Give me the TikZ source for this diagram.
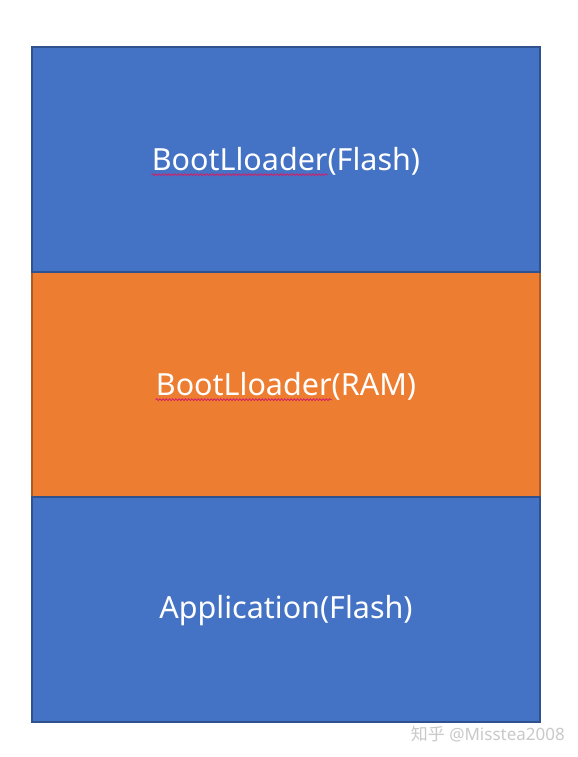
\documentclass[tikz,border=0pt]{standalone}
\usepackage{fontspec}
\setmainfont{Noto Sans}
\newfontfamily\cjkfont{Noto Sans CJK SC}
\usetikzlibrary{decorations.pathmorphing,calc}
\definecolor{boxblue}{HTML}{4472C4}
\definecolor{boxblueline}{HTML}{2F528F}
\definecolor{boxorange}{HTML}{ED7D31}
\definecolor{boxorangeline}{HTML}{AE5A21}
\definecolor{marktext}{HTML}{C9C9C9}
\definecolor{spellred}{HTML}{D0206A}
\newcommand\labelfont{\fontsize{30.5bp}{36bp}\selectfont}
\tikzset{
  layer/.style={rectangle, minimum width=508bp, minimum height=225bp, line width=1.3bp, inner sep=0pt},
  bluelayer/.style={layer, fill=boxblue, draw=boxblueline},
  orangelayer/.style={layer, fill=boxorange, draw=boxorangeline},
  layertext/.style={text=white, inner sep=0pt, font=\labelfont},
  wordbox/.style={inner sep=0pt, font=\labelfont, anchor=base west},
  spell/.style={spellred, line width=0.8bp, decorate, decoration={snake, segment length=3.2bp, amplitude=0.9bp}},
}
\begin{document}
\begin{tikzpicture}[x=1bp,y=-1bp]
\useasboundingbox[fill=white] (0,0) rectangle (578,757);
\node[orangelayer] (ram) at (286,384.5) {};
\node[bluelayer] (bootflash) at (286,159.5) {};
\node[bluelayer] (app) at (286,609.5) {};
\node[layertext] (t1) at (286,161) {BootLloader(Flash)};
\node[layertext] (t2) at (286,386) {BootLloader(RAM)};
\node[layertext] (t3) at (286,611) {Application(Flash)};
\node[wordbox] (w1) at (t1.base west) {\phantom{BootLloader}};
\node[wordbox] (w2) at (t2.base west) {\phantom{BootLloader}};
\coordinate (s1a) at ($(w1.base west)+(0,4.5)$);
\coordinate (s1b) at ($(w1.base east)+(0,4.5)$);
\draw[spell] (s1a) -- (s1b);
\coordinate (s2a) at ($(w2.base west)+(0,4.5)$);
\coordinate (s2b) at ($(w2.base east)+(0,4.5)$);
\draw[spell] (s2a) -- (s2b);
\node[text=marktext, inner sep=0pt, anchor=east, font=\fontsize{17bp}{20bp}\selectfont] (mark) at (565,734) {{\cjkfont 知乎} @Misstea2008};
\end{tikzpicture}
\end{document}
